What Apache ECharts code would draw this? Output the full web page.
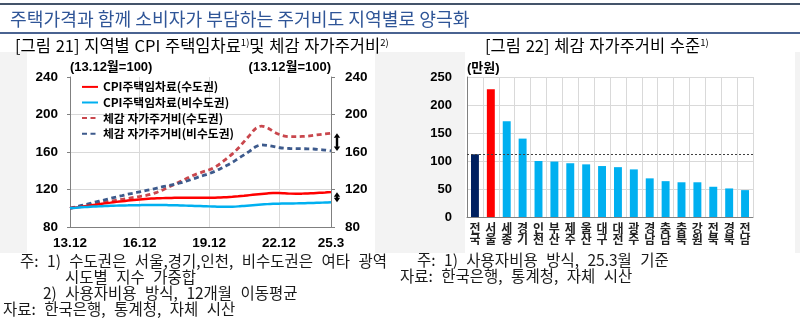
<!DOCTYPE html>
<html>
<head>
<meta charset="utf-8">
<script src="https://cdn.jsdelivr.net/npm/echarts@6/dist/echarts.min.js"></script>
<style>
  html, body { margin: 0; padding: 0; background: #fff; }
  #wrap { position: relative; width: 800px; height: 322px; overflow: hidden;
          font-family: 'Noto Sans CJK KR', sans-serif; color: #111; }
  .bg { position: absolute; }
  #chart { position: absolute; left: 0; top: 0; width: 800px; height: 322px; }
  .t { position: absolute; white-space: nowrap; }
  .title { font-size: 18.2px; line-height: 20px; color: #2f5597; }
  .sub { font-size: 16.5px; line-height: 20px; color: #000; word-spacing: 1px; }
  .sup { font-size: 9.5px; position: relative; top: -6px; }
  .note { font-size: 15.5px; line-height: 16px; color: #1a1a1a; word-spacing: 5px; }
</style>
</head>
<body>
<div id="wrap">
  <div class="bg" style="left:0;top:52px;width:800px;height:201px;background:#f3f3f3"></div>
  <div class="bg" style="left:27px;top:52px;width:348px;height:201px;background:#fff"></div>
  <div class="bg" style="left:465px;top:52px;width:330px;height:201px;background:#fff"></div>
  <div class="bg" style="left:0;top:3px;width:800px;height:2px;background:#44546a"></div>
  <div class="bg" style="left:0;top:32px;width:800px;height:1.5px;background:#4a6391"></div>

  <div id="chart"></div>

  <div class="t title" style="left:10px;top:7.5px">주택가격과 함께 소비자가 부담하는 주거비도 지역별로 양극화</div>
  <div class="t sub" style="left:15px;top:34.5px">[그림 21] 지역별 CPI 주택임차료<span class="sup">1)</span>및 체감 자가주거비<span class="sup">2)</span></div>
  <div class="t sub" style="left:485px;top:34.5px">[그림 22] 체감 자가주거비 수준<span class="sup">1)</span></div>

  <div class="t note" style="left:20px;top:251.5px">주: 1) 수도권은 서울,경기,인천, 비수도권은 여타 광역</div>
  <div class="t note" style="left:65px;top:267.5px">시도별 지수 가중합</div>
  <div class="t note" style="left:43px;top:283.5px">2) 사용자비용 방식, 12개월 이동평균</div>
  <div class="t note" style="left:3px;top:299.5px">자료: 한국은행, 통계청, 자체 시산</div>

  <div class="t note" style="left:417px;top:250.5px">주: 1) 사용자비용 방식, 25.3월 기준</div>
  <div class="t note" style="left:400px;top:266.5px">자료: 한국은행, 통계청, 자체 시산</div>
</div>

<script>
// Quarterly index series, 2013.12 = 100
const quarters = ['13.12','14.3','14.6','14.9','14.12','15.3','15.6','15.9','15.12',
  '16.3','16.6','16.9','16.12','17.3','17.6','17.9','17.12','18.3','18.6','18.9','18.12',
  '19.3','19.6','19.9','19.12','20.3','20.6','20.9','20.12','21.3','21.6','21.9','21.12',
  '22.3','22.6','22.9','22.12','23.3','23.6','23.9','23.12','24.3','24.6','24.9','24.12','25.3'];
const tickLabels = ['13.12','16.12','19.12','22.12','25.3'];

const seriesNames = ['CPI주택임차료(수도권)', 'CPI주택임차료(비수도권)',
                     '체감 자가주거비(수도권)', '체감 자가주거비(비수도권)'];

const cpiCapital = [100,100.8,101.6,102.5,103.4,104.3,105.2,106,106.8,107.5,
  108.2,108.8,109.4,109.9,110.3,110.6,110.8,111,111.1,111.2,
  111.2,111.2,111.2,111.2,111.2,111.3,111.5,111.8,112.2,112.7,
  113.3,114,114.7,115.3,115.8,116.2,116.3,116,115.6,115.5,
  115.6,115.8,116.1,116.5,116.8,117.2];

const cpiNonCapital = [100,100.5,101,101.4,101.8,102.1,102.4,102.6,102.8,103,
  103.1,103.2,103.3,103.4,103.4,103.4,103.4,103.3,103.2,103,
  102.8,102.6,102.4,102.2,102,101.8,101.6,101.6,101.7,102,
  102.5,103,103.5,104,104.4,104.7,104.9,105,105.1,105.2,
  105.3,105.5,105.7,105.9,106.1,106.3];

const ownerCapital = [100,101.2,102.4,103.5,104.5,105.5,106.5,107.5,108.5,109.5,
  110.5,111.5,112.5,113.5,115,117,119.5,122.5,125.5,128.5,
  131.5,134.5,137,139,141,144,148,153,158,164,
  171,178,185,187.5,186,182,179,177,176.3,176.3,
  176.6,177,177.8,178.6,179.3,180];

const ownerNonCapital = [100,101.5,103,104.5,106,107.5,109,110.5,112,113.5,
  115,116.2,117.5,118.8,120,121.5,123,124.2,125.5,127,
  128.8,130.8,133,135,137,139.5,142.5,145.5,149,153,
  157,161,165.5,167.5,167,166,164.8,164,163.7,163.6,
  163.5,163.4,163.2,162.7,162,161.2];

// Owner-occupied housing cost by region (10,000 KRW), 2025.3
const regions = ['전국','서울','세종','경기','인천','부산','제주','울산','대구',
                 '대전','광주','경남','충남','충북','강원','전북','경북','전남'];
const costs = [112,228,171,140,100,99,96,94,91,89,85,69,64,62,62,54,51,48];

const numFont = "'Liberation Sans','Noto Sans CJK KR',sans-serif";
const krFont = "'Noto Sans CJK KR',sans-serif";
const gridGray = '#d9d9d9';
const axisGray = '#808080';

const chart = echarts.init(document.getElementById('chart'), null, { renderer: 'canvas' });

const lineColors = ['#ff0000', '#00b0f0', '#c9474d', '#3d5a8c'];
const lineData = [cpiCapital, cpiNonCapital, ownerCapital, ownerNonCapital];

const lineSeries = lineData.map((d, k) => ({
  name: seriesNames[k],
  type: 'line',
  xAxisIndex: 0,
  yAxisIndex: 0,
  data: d,
  smooth: 0.35,
  symbol: 'none',
  z: k < 2 ? 4 : 3,
  lineStyle: {
    color: lineColors[k],
    width: k < 2 ? 2.5 : 2.8,
    type: k < 2 ? 'solid' : [5, 3.5]
  },
  itemStyle: { color: lineColors[k] }
}));

const barSeries = {
  type: 'bar',
  xAxisIndex: 1,
  yAxisIndex: 2,
  barWidth: '50%',
  data: costs.map((v, i) => ({
    value: v,
    itemStyle: { color: i === 0 ? '#002060' : (i === 1 ? '#ff0000' : '#00b0f0') }
  })),
  markLine: {
    silent: true,
    symbol: 'none',
    label: { show: false },
    lineStyle: { type: [2, 2], color: '#404040', width: 1 },
    data: [{ yAxis: costs[0] }]
  }
};

const valueLabel = { fontFamily: numFont, fontWeight: 'bold', fontSize: 13.5, color: '#000' };

chart.setOption({
  animation: false,
  backgroundColor: 'transparent',
  grid: [
    { left: 70, top: 77, width: 261, height: 150 },
    { left: 467, top: 77, width: 286, height: 140 }
  ],
  legend: {
    left: 76, top: 76, orient: 'vertical',
    itemWidth: 16, itemHeight: 10, itemGap: 3.8,
    data: seriesNames,
    itemStyle: { opacity: 0 },
    textStyle: { fontFamily: krFont, fontWeight: 'bold', fontSize: 11.8, color: '#000' }
  },
  xAxis: [
    {
      type: 'category', gridIndex: 0, data: quarters, boundaryGap: false,
      axisLine: { lineStyle: { color: axisGray } },
      axisTick: { show: false },
      axisLabel: Object.assign({ interval: (i, v) => tickLabels.includes(v), margin: 10 }, valueLabel),
      splitLine: { show: true, interval: (i, v) => tickLabels.includes(v), lineStyle: { color: gridGray } }
    },
    {
      type: 'category', gridIndex: 1, data: regions,
      axisLine: { lineStyle: { color: axisGray } },
      axisTick: { show: false },
      axisLabel: {
        interval: 0, margin: 6, lineHeight: 11,
        formatter: v => v.split('').join('\n'),
        fontFamily: krFont, fontWeight: 'bold', fontSize: 12, color: '#222'
      },
      splitLine: { show: true, interval: 0, lineStyle: { color: gridGray } }
    }
  ],
  yAxis: [
    {
      type: 'value', gridIndex: 0, min: 80, max: 240, interval: 40, position: 'left',
      name: '(13.12월=100)', nameLocation: 'end', nameGap: 3,
      nameTextStyle: { align: 'left', fontFamily: numFont, fontWeight: 'bold', fontSize: 13, color: '#000' },
      axisLine: { show: true, lineStyle: { color: axisGray } },
      axisTick: { show: true, length: 3, lineStyle: { color: axisGray } },
      axisLabel: Object.assign({ margin: 12 }, valueLabel),
      splitLine: { show: true, showMaxLine: false, lineStyle: { color: gridGray } }
    },
    {
      type: 'value', gridIndex: 0, min: 80, max: 240, interval: 40, position: 'right',
      name: '(13.12월=100)', nameLocation: 'end', nameGap: 3,
      nameTextStyle: { align: 'right', fontFamily: numFont, fontWeight: 'bold', fontSize: 13, color: '#000' },
      axisLine: { show: true, lineStyle: { color: axisGray } },
      axisTick: { show: true, length: 4, lineStyle: { color: axisGray } },
      axisLabel: Object.assign({ margin: 14 }, valueLabel),
      splitLine: { show: false }
    },
    {
      type: 'value', gridIndex: 1, min: 0, max: 250, interval: 50,
      name: '(만원)', nameLocation: 'end', nameGap: 2,
      nameTextStyle: { align: 'left', fontFamily: numFont, fontWeight: 'bold', fontSize: 13, color: '#000' },
      axisLine: { show: true, lineStyle: { color: axisGray } },
      axisTick: { show: false },
      axisLabel: Object.assign({ margin: 15 }, valueLabel, { fontSize: 13 }),
      splitLine: { show: true, lineStyle: { color: gridGray } }
    }
  ],
  series: lineSeries.concat([barSeries])
});

// Double-headed arrows marking the latest capital / non-capital gaps
function gapArrow(x, vTop, vBottom) {
  const yTop = chart.convertToPixel({ xAxisIndex: 0, yAxisIndex: 0 }, [quarters.length - 1, vTop])[1];
  const yBot = chart.convertToPixel({ xAxisIndex: 0, yAxisIndex: 0 }, [quarters.length - 1, vBottom])[1];
  const hw = 3.2, hh = 4.5;
  return {
    type: 'group',
    children: [
      { type: 'line', shape: { x1: x, y1: yTop + hh - 0.5, x2: x, y2: yBot - hh + 0.5 },
        style: { stroke: '#000', lineWidth: 2.4 } },
      { type: 'polygon', shape: { points: [[x, yTop], [x - hw, yTop + hh], [x + hw, yTop + hh]] },
        style: { fill: '#000' } },
      { type: 'polygon', shape: { points: [[x, yBot], [x - hw, yBot - hh], [x + hw, yBot - hh]] },
        style: { fill: '#000' } }
    ]
  };
}
const last = quarters.length - 1;
const arrowX = chart.convertToPixel({ xAxisIndex: 0, yAxisIndex: 0 }, [last, 100])[0] + 6;
chart.setOption({
  graphic: [
    gapArrow(arrowX, ownerCapital[last], ownerNonCapital[last]),
    gapArrow(arrowX, cpiCapital[last], cpiNonCapital[last])
  ]
});
</script>
</body>
</html>
